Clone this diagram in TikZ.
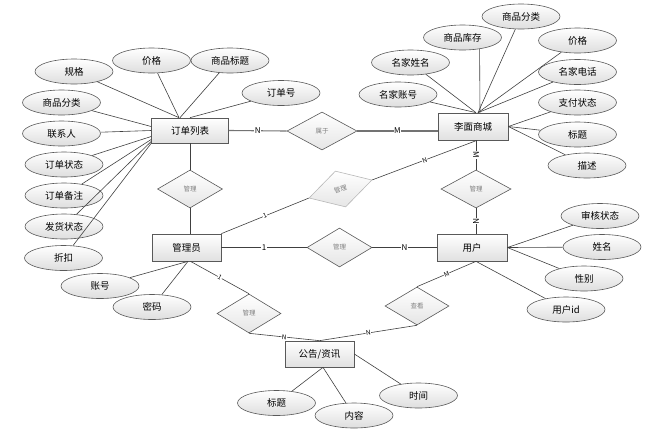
\documentclass[tikz,border=0pt]{standalone}
\usepackage{fontspec}
\setmainfont{Noto Sans CJK SC}
\usetikzlibrary{shapes.geometric,shadows}
\begin{document}
\begin{tikzpicture}[x=1pt,y=-1pt,
 ent/.style={rectangle,draw=black!65,line width=0.7pt,top color=white,bottom color=black!12,minimum width=70pt,minimum height=26pt,inner sep=0pt,font=\fontsize{9.5}{11}\selectfont,drop shadow={shadow xshift=0.8pt,shadow yshift=-0.8pt,fill=black!30}},
 attr/.style={ellipse,draw=black!65,line width=0.6pt,top color=white,bottom color=black!13,minimum width=78pt,minimum height=25pt,inner sep=0pt,font=\fontsize{9.5}{11}\selectfont},
 rel/.style={diamond,draw=black!65,line width=0.6pt,top color=white,bottom color=black!10,minimum width=65pt,minimum height=38pt,inner sep=0pt,font=\fontsize{6.5}{7}\selectfont,text=black!50},
 ln/.style={draw=black!75,line width=0.6pt},
 lnthick/.style={draw=black!55,line width=1.1pt},
 card/.style={fill=white,inner sep=0.4pt,font=\fontsize{8}{9}\selectfont},
 cards/.style={card,font=\fontsize{6.5}{7}\selectfont,sloped}
]
\useasboundingbox (0,0) rectangle (661,440);

% entities
\node[ent,minimum width=77pt,minimum height=25pt] (dd) at (190,130.5) {订单列表};
\node[ent,minimum width=70pt,minimum height=27pt] (lm) at (473,126.5) {李面商城};
\node[ent,minimum width=69pt,minimum height=27pt] (gly) at (186.5,247.5) {管理员};
\node[ent,minimum width=70pt,minimum height=27pt] (yh) at (472,247.5) {用户};
\node[ent,minimum width=69pt,minimum height=26pt] (gg) at (319.5,354) {公告/资讯};

% relationships
\node[rel,minimum width=70pt] (sy) at (322,131) {属于};
\node[rel] (r1) at (190,189) {管理};
\node[rel,rotate=16,draw=black!28,minimum width=65.5pt,minimum height=37.4pt] (r2) at (340.5,189) {管理};
\node[rel,minimum height=39pt] (r3) at (339.5,247.5) {管理};
\node[rel,minimum width=70pt] (r4) at (476,189) {管理};
\node[rel,minimum width=64pt,minimum height=39pt] (r5) at (249,313.5) {管理};
\node[rel,minimum width=64pt] (r6) at (417,306) {查看};

% relationship connectors
\draw[lnthick] (dd.east) -- node[card]{N} (sy.west);
\draw[lnthick] (sy.east) -- node[card]{M} (sy.east -| lm.west);
\draw[ln] (dd.south -| r1.north) -- (r1.north);
\draw[ln] (r1.south) -- (r1.south |- gly.north);
\draw[ln] (gly.east) -- node[card]{1} (r3.west);
\draw[ln] (r3.east) -- node[card]{N} (yh.west);
\draw[ln] (lm.south -| r4.north) -- node[card,sloped]{M} (r4.north);
\draw[ln] (r4.south) -- node[card,sloped]{N} (r4.south |- yh.north);
\draw[ln] (gly.north east) -- node[cards]{1} (r2.west);
\draw[ln] (r2.east) -- node[cards]{N} ([xshift=4pt]lm.south);
\draw[ln] ([xshift=4pt]gly.south) -- node[cards]{1} (r5.north);
\draw[ln] (r5.south) -- node[cards]{N} (gg.north);
\draw[ln] (gg.north) -- node[cards]{N} (r6.south);
\draw[ln] (r6.north) -- node[cards]{M} ([xshift=4pt]yh.south);

% attributes of 订单列表
\node[attr] (a1) at (74,71.5) {规格};
\node[attr] (a2) at (151.5,60.5) {价格};
\node[attr] (a3) at (230,60.5) {商品标题};
\node[attr] (a4) at (281,93) {订单号};
\node[attr] (a5) at (61.5,102.5) {商品分类};
\node[attr] (a6) at (61.5,133.5) {联系人};
\node[attr] (a7) at (64,164.5) {订单状态};
\node[attr] (a8) at (64,195.5) {订单备注};
\node[attr] (a9) at (64,226.5) {发货状态};
\node[attr] (a10) at (63.5,258) {折扣};
\draw[ln] (a1) -- ([xshift=-11pt]dd.north);
\draw[ln] (a2) -- ([xshift=-11pt]dd.north);
\draw[ln] (a3) -- ([xshift=-10pt]dd.north);
\draw[ln] (a4) -- (dd.north);
\draw[ln] (a5) -- ([yshift=4pt]dd.west);
\draw[ln] (a6) -- (dd.west);
\draw[ln] (a7) -- ([yshift=-6pt]dd.west);
\draw[ln] (a8) -- ([yshift=-9pt]dd.west);
\draw[ln] (a9) -- ([yshift=-11pt]dd.west);
\draw[ln] (a10) -- (dd.south west);

% attributes of 李面商城
\node[attr] (b1) at (521,16.5) {商品分类};
\node[attr] (b2) at (462.5,37.5) {商品库存};
\node[attr] (b3) at (577.5,40.5) {价格};
\node[attr] (b4) at (410.5,62.5) {名家姓名};
\node[attr] (b5) at (398,94.5) {名家账号};
\node[attr] (b6) at (577.5,72) {名家电话};
\node[attr] (b7) at (577.5,102.5) {支付状态};
\node[attr] (b8) at (577.5,134.5) {标题};
\node[attr] (b9) at (587,165.5) {描述};
\draw[ln] (b1) -- ([xshift=5pt]lm.north);
\draw[ln] (b2.-34) -- ([xshift=7pt]lm.north);
\draw[ln] (b3) -- ([xshift=5pt]lm.north);
\draw[ln] (b4) -- ([xshift=3pt]lm.north);
\draw[ln] (b5) -- ([xshift=3pt]lm.north);
\draw[ln] (b6) -- ([xshift=5pt]lm.north);
\draw[ln] (b7) -- (lm.east);
\draw[ln] (b8) -- (lm.east);
\draw[ln] (b9) -- (lm.east);

% attributes of 用户
\node[attr] (c1) at (600,216) {审核状态};
\node[attr] (c2) at (602,247) {姓名};
\node[attr] (c3) at (584,278.5) {性别};
\node[attr] (c4) at (566,309.5) {用户id};
\draw[ln] (c1) -- (yh.east);
\draw[ln] (c2) -- (yh.east);
\draw[ln] (c3) -- (yh.east);
\draw[ln] (c4) -- ([xshift=4pt]yh.south);

% attributes of 管理员
\node[attr] (d1) at (100,286) {账号};
\node[attr] (d2) at (152,307) {密码};
\draw[ln] (d1) -- ([xshift=1.5pt]gly.south);
\draw[ln] (d2) -- ([xshift=1.5pt]gly.south);

% attributes of 公告/资讯
\node[attr] (e1) at (276.5,403) {标题};
\node[attr] (e2) at (354,415.5) {内容};
\node[attr] (e3) at (418.5,395.5) {时间};
\draw[ln] (e1) -- ([xshift=3.5pt]gg.south);
\draw[ln] (e2) -- ([xshift=3.5pt]gg.south);
\draw[ln] (e3) -- (gg.east);
\end{tikzpicture}
\end{document}
